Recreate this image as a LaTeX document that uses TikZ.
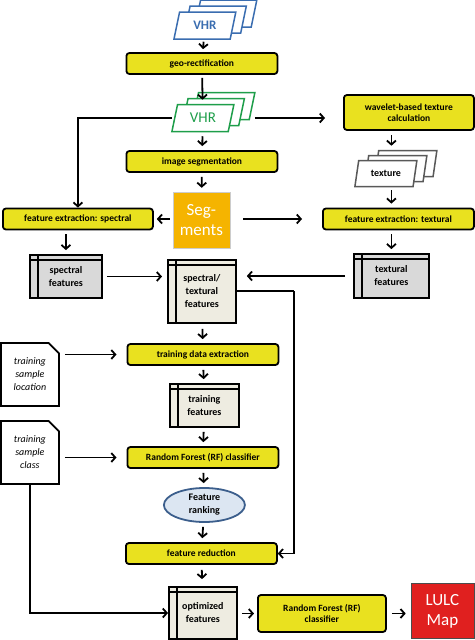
\documentclass[tikz,border=0pt]{standalone}
\usepackage{fontspec}
\setmainfont{Carlito}
\usepackage{tikz}
\usetikzlibrary{positioning,arrows.meta,shapes.geometric,shapes.misc,shadows}

\definecolor{boxyellow}{HTML}{E9E11F}
\definecolor{tabbeige}{HTML}{EEECE1}
\definecolor{tabgray}{HTML}{D9D9D9}
\definecolor{segorange}{HTML}{F5B400}
\definecolor{mapred}{HTML}{E0201F}
\definecolor{rankblue}{HTML}{DCE6F2}
\definecolor{rankedge}{HTML}{3B5E8C}
\definecolor{vhrblue}{HTML}{3A6DB0}
\definecolor{vhrgreen}{HTML}{1E9E4A}
\definecolor{texgray}{HTML}{595959}

\begin{document}
\begin{tikzpicture}[x=1pt,y=-1pt]

	\tikzstyle{block} = [rectangle, draw, line width=1.8pt, fill=boxyellow,
		rounded corners=3pt, align=center, inner sep=1pt,
		minimum width=151pt, minimum height=21pt,
		font=\fontsize{9.5}{11.5}\selectfont\bfseries]
	\tikzstyle{tablebox} = [rectangle, draw, line width=1.8pt, fill=tabbeige,
		align=center, inner sep=1pt, font=\fontsize{10}{13}\selectfont\bfseries,
		path picture={
			\draw[line width=1.8pt] ([yshift=-5pt]path picture bounding box.north west)
				-- ([yshift=-5pt]path picture bounding box.north east);
			\draw[line width=1.8pt] ([xshift=8pt]path picture bounding box.north west)
				-- ([xshift=8pt]path picture bounding box.south west);}]
	\tikzstyle{docbox} = [chamfered rectangle, chamfered rectangle corners=north east,
		chamfered rectangle xsep=7pt, draw, line width=1.8pt, fill=white,
		minimum width=58pt, minimum height=63pt, align=center, inner sep=1pt,
		font=\fontsize{10}{13}\selectfont\itshape]
	\tikzstyle{image} = [trapezium, trapezium left angle=75, trapezium right angle=105,
		trapezium stretches=true, minimum width=62pt, minimum height=27pt,
		fill=white, line width=1.5pt, inner sep=1pt]
	\tikzstyle{line} = [draw, line width=1.8pt, -{Straight Barb[length=4pt,width=9pt]}]

	% input imagery and pre-processing
	\node[image, draw=vhrblue, text=vhrblue, font=\fontsize{13}{15}\selectfont\bfseries,
		copy shadow={shadow xshift=21pt, shadow yshift=12pt, fill=white, draw=vhrblue, line width=1.5pt},
		copy shadow={shadow xshift=10.5pt, shadow yshift=6pt, fill=white, draw=vhrblue, line width=1.5pt}]
		(vhr1) at (204,25.5) {VHR};
	\node[block] (geo) at (201,63.5) {geo-rectification};
	\node[image, draw=vhrgreen, text=vhrgreen, font=\fontsize{15}{17}\selectfont,
		copy shadow={shadow xshift=21pt, shadow yshift=12pt, fill=white, draw=vhrgreen, line width=1.5pt},
		copy shadow={shadow xshift=10.5pt, shadow yshift=6pt, fill=white, draw=vhrgreen, line width=1.5pt}]
		(vhr2) at (202,118) {VHR};
	\node[block, minimum width=130pt, minimum height=35pt] (wave) at (408,112.5)
		{wavelet-based texture\\calculation};
	\node[block] (imgseg) at (201,161.5) {image segmentation};
	\node[image, draw=texgray, minimum height=26pt,
		font=\fontsize{10}{12}\selectfont\bfseries,
		copy shadow={shadow xshift=20pt, shadow yshift=10pt, fill=white, draw=texgray, line width=1.5pt},
		copy shadow={shadow xshift=10pt, shadow yshift=5pt, fill=white, draw=texgray, line width=1.5pt}]
		(texture) at (385,173.5) {texture};
	\node[rectangle, draw=gray!40, fill=segorange, text=white, align=center,
		minimum width=57pt, minimum height=56pt,
		font=\fontsize{17}{20}\selectfont] (seg) at (200.5,220) {Seg-\\ments};

	% feature extraction
	\node[block, minimum width=150pt] (fxspec) at (77,219) {feature extraction: spectral};
	\node[block] (fxtex) at (397.5,219) {feature extraction: textural};
	\node[tablebox, fill=tabgray, minimum width=72pt, minimum height=43pt] (specf)
		at (65,276.5) {spectral\\features};
	\node[tablebox, minimum width=68pt, minimum height=63pt] (stf)
		at (201,291.5) {spectral/\\textural\\features};
	\node[tablebox, fill=tabgray, minimum width=75pt, minimum height=44pt] (texf)
		at (390.5,276) {textural\\features};

	% training and classification
	\node[docbox] (tsl) at (29,374.5) {training\\sample\\location};
	\node[block] (tde) at (202,354.5) {training data extraction};
	\node[tablebox, minimum width=69pt, minimum height=43pt] (trf)
		at (203.5,405.5) {training\\features};
	\node[docbox] (tsc) at (29,452.5) {training\\sample\\class};
	\node[block] (rf1) at (202,457.5) {Random Forest (RF) classifier};
	\node[ellipse, draw=rankedge, fill=rankblue, line width=1.8pt, align=center,
		minimum width=81pt, minimum height=34pt, inner sep=1pt,
		font=\fontsize{10}{13}\selectfont\bfseries] (rank) at (203.5,505) {Feature\\ranking};
	\node[block] (fred) at (200.5,553.5) {feature reduction};
	\node[tablebox, minimum width=68pt, minimum height=52pt] (optf)
		at (202,613) {optimized\\features};
	\node[block, minimum width=128pt, minimum height=37pt] (rf2)
		at (321,613.5) {Random Forest (RF)\\classifier};
	\node[rectangle, draw=black!70, fill=mapred, text=white, align=center,
		minimum width=63pt, minimum height=55pt,
		font=\fontsize{17}{20}\selectfont] (lulc) at (441.5,611) {LULC\\Map};

	% connectors
	\path[line, shorten <=2pt, shorten >=3pt] (vhr1) -- (geo);
	\path[line, shorten <=3pt, shorten >=4pt] (geo) -- (vhr2);
	\path[line, shorten <=4pt, shorten >=4pt] (vhr2) -- (imgseg);
	\path[line, shorten <=23pt, shorten >=18pt] (vhr2.east) -- (vhr2.east -| wave.west);
	\path[line, shorten <=2pt] (vhr2.west) -| (fxspec.north);
	\path[line, shorten <=4pt, shorten >=4pt] (imgseg) -- (seg);
	\path[line, shorten <=4pt, shorten >=14pt] (wave.south -| texf) -- (texture.north -| texf);
	\path[line, shorten <=3pt, shorten >=4pt] (texture.south -| texf) -- (fxtex.north -| texf);
	\path[line, shorten <=3pt, shorten >=3pt] (seg.west |- fxspec) -- (fxspec.east);
	\path[line, shorten <=13pt, shorten >=20pt] (seg.east |- fxtex) -- (fxtex.west);
	\path[line, shorten <=4pt, shorten >=4pt] (fxspec.south -| specf) -- (specf);
	\path[line, shorten <=4pt, shorten >=4pt] (fxtex.south -| texf) -- (texf);
	\path[line, shorten <=4pt, shorten >=5pt] (specf.east) -- (specf.east -| stf.west);
	\path[line, shorten <=8pt, shorten >=10pt] (texf.west) -- (texf.west -| stf.east);
	\coordinate (bus) at (293,291);
	\draw[line width=1.8pt] (stf.east |- bus) -- (bus);
	\path[line] (bus) |- (fred.east);
	\path[line, shorten <=5pt, shorten >=4pt] (stf) -- (tde);
	\path[line, shorten <=5pt, shorten >=10pt] (tsl.east |- tde) -- (tde.west);
	\path[line, shorten <=4pt, shorten >=4pt] (tde) -- (trf);
	\path[line, shorten <=4pt, shorten >=4pt] (trf) -- (rf1);
	\path[line, shorten <=5pt, shorten >=10pt] (tsc.east |- rf1) -- (rf1.west);
	\path[line, shorten <=4pt, shorten >=4pt] (rf1) -- (rank);
	\path[line, shorten <=4pt, shorten >=4pt] (rank) -- (fred);
	\path[line, shorten <=5pt, shorten >=7pt] (fred) -- (optf);
	\path[line] (tsc.south) |- (optf.west);
	\path[line, shorten <=4pt, shorten >=3pt] (optf.east |- rf2) -- (rf2.west);
	\path[line, shorten <=5pt, shorten >=5pt] (rf2.east) -- (rf2.east -| lulc.west);

	\useasboundingbox (0,0) rectangle (474,640);
\end{tikzpicture}
\end{document}
